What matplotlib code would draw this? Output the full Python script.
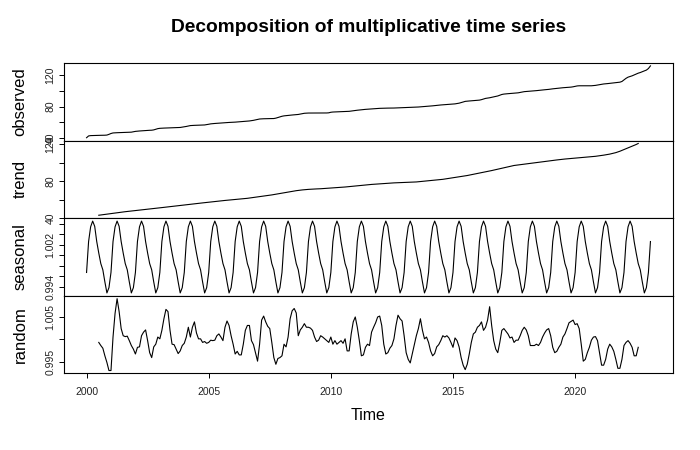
"""
Decomposition of a multiplicative monthly series (R decompose() style plot).
"""

import numpy as np
import matplotlib
matplotlib.use('Agg')
import matplotlib.pyplot as plt

plt.rcParams['font.family'] = ['Liberation Sans', 'DejaVu Sans']

# ─────────────────────────────────────────────────────────────
# DATA  (monthly, Jan 2000 - Feb 2023)
# ─────────────────────────────────────────────────────────────
START_YEAR = 2000
FREQ = 12
MA_OFFSET = 6   # centred 2x12 moving average loses 6 months at each end

observed = [
    40.2, 42.5, 42.9, 43.0, 43.1, 43.2, 43.2, 43.3, 43.3, 43.4, 43.6, 44.5,   # 2000
    45.6, 46.3, 46.5, 46.6, 46.7, 46.8, 46.9, 47.0, 47.1, 47.2, 47.3, 47.8,   # 2001
    48.3, 48.6, 48.8, 49.0, 49.2, 49.4, 49.5, 49.7, 49.8, 50.2, 51.0, 51.8,   # 2002
    52.2, 52.4, 52.5, 52.6, 52.6, 52.7, 52.8, 52.9, 53.0, 53.1, 53.3, 53.7,   # 2003
    54.0, 54.6, 55.2, 55.7, 55.9, 56.0, 56.1, 56.2, 56.3, 56.4, 56.5, 56.9,   # 2004
    57.4, 57.9, 58.2, 58.4, 58.6, 58.8, 59.0, 59.2, 59.4, 59.5, 59.7, 59.8,   # 2005
    59.9, 60.1, 60.3, 60.5, 60.7, 60.9, 61.1, 61.3, 61.6, 62.0, 62.4, 63.0,   # 2006
    63.6, 64.1, 64.3, 64.4, 64.5, 64.5, 64.6, 64.6, 64.7, 65.2, 66.0, 66.9,   # 2007
    67.6, 68.1, 68.4, 68.7, 69.0, 69.2, 69.4, 69.6, 69.9, 70.4, 71.0, 71.4,   # 2008
    71.6, 71.7, 71.7, 71.7, 71.7, 71.7, 71.7, 71.7, 71.7, 71.7, 71.8, 72.0,   # 2009
    72.7, 73.0, 73.1, 73.2, 73.3, 73.4, 73.5, 73.6, 73.7, 73.9, 74.2, 74.6,   # 2010
    75.0, 75.3, 75.6, 75.9, 76.2, 76.4, 76.6, 76.8, 77.0, 77.2, 77.4, 77.6,   # 2011
    77.7, 77.8, 77.9, 77.9, 78.0, 78.0, 78.1, 78.1, 78.2, 78.3, 78.4, 78.5,   # 2012
    78.5, 78.6, 78.7, 78.8, 78.9, 79.0, 79.2, 79.4, 79.6, 79.8, 80.0, 80.2,   # 2013
    80.4, 80.6, 80.9, 81.2, 81.5, 81.8, 82.0, 82.2, 82.4, 82.6, 82.8, 83.0,   # 2014
    83.2, 83.4, 83.8, 84.3, 85.0, 85.8, 86.6, 86.9, 87.1, 87.3, 87.5, 87.7,   # 2015
    87.8, 88.2, 88.8, 89.6, 90.4, 90.8, 91.2, 91.8, 92.5, 92.9, 93.5, 94.5,   # 2016
    95.4, 95.9, 96.2, 96.4, 96.6, 96.8, 97.0, 97.1, 97.5, 98.0, 98.5, 99.0,   # 2017
    99.2, 99.4, 99.6, 99.8, 100.0, 100.3, 100.6, 100.9, 101.2, 101.4, 101.6, 101.9,   # 2018
    102.3, 102.6, 102.9, 103.2, 103.5, 103.8, 104.0, 104.2, 104.4, 104.6, 104.8, 105.2,  # 2019
    105.8, 106.3, 106.5, 106.5, 106.5, 106.4, 106.4, 106.4, 106.5, 106.7, 107.0, 107.4,  # 2020
    107.9, 108.4, 108.8, 109.0, 109.3, 109.6, 109.9, 110.2, 110.5, 110.8, 111.1, 112.0,  # 2021
    114.0, 116.0, 117.5, 118.3, 119.2, 120.3, 121.5, 122.6, 123.4, 124.5, 125.5, 126.5,  # 2022
    128.5, 131.9,                                                                         # 2023
]

# Jul 2000 - Aug 2022
trend = [
    43.2, 43.5, 43.8, 44.1, 44.4, 44.7,                                        # 2000 (Jul-Dec)
    45.0, 45.3, 45.6, 45.9, 46.2, 46.5, 46.8, 47.03, 47.27, 47.5, 47.73, 47.97,
    48.2, 48.43, 48.67, 48.9, 49.13, 49.37, 49.6, 49.87, 50.13, 50.4, 50.67, 50.93,
    51.2, 51.47, 51.73, 52.0, 52.27, 52.53, 52.8, 53.05, 53.3, 53.55, 53.8, 54.05,
    54.3, 54.55, 54.8, 55.05, 55.3, 55.55, 55.8, 56.05, 56.3, 56.55, 56.8, 57.05,
    57.3, 57.55, 57.8, 58.05, 58.3, 58.55, 58.8, 59.0, 59.2, 59.4, 59.6, 59.8,
    60.0, 60.2, 60.4, 60.6, 60.8, 61.0, 61.2, 61.5, 61.8, 62.1, 62.4, 62.7,
    63.0, 63.3, 63.6, 63.9, 64.2, 64.5, 64.8, 65.18, 65.57, 65.95, 66.33, 66.72,
    67.1, 67.48, 67.87, 68.25, 68.63, 69.02, 69.4, 69.75, 70.05, 70.33, 70.58, 70.8,
    71.0, 71.17, 71.32, 71.45, 71.57, 71.67, 71.7, 71.85, 72.0, 72.15, 72.3, 72.45,
    72.6, 72.75, 72.9, 73.05, 73.2, 73.35, 73.5, 73.73, 73.95, 74.18, 74.4, 74.63,
    74.85, 75.08, 75.3, 75.53, 75.75, 75.98, 76.2, 76.36, 76.52, 76.68, 76.83, 76.99,
    77.15, 77.31, 77.47, 77.63, 77.78, 77.94, 78.1, 78.19, 78.28, 78.38, 78.47, 78.56,
    78.65, 78.74, 78.83, 78.93, 79.02, 79.11, 79.2, 79.41, 79.62, 79.83, 80.03, 80.24,
    80.45, 80.66, 80.87, 81.08, 81.28, 81.49, 81.7, 82.03, 82.37, 82.7, 83.03, 83.37,
    83.7, 84.03, 84.37, 84.7, 85.03, 85.37, 85.7, 86.14, 86.58, 87.03, 87.47, 87.91,
    88.35, 88.79, 89.23, 89.68, 90.12, 90.56, 91.0, 91.5, 92.0, 92.5, 93.0, 93.5,
    94.0, 94.5, 95.0, 95.5, 96.0, 96.5, 97.0, 97.29, 97.58, 97.88, 98.17, 98.46,
    98.75, 99.04, 99.33, 99.63, 99.92, 100.21, 100.5, 100.78, 101.05, 101.33, 101.6, 101.88,
    102.15, 102.43, 102.7, 102.98, 103.25, 103.53, 103.8, 103.98, 104.17, 104.35, 104.53, 104.72,
    104.9, 105.08, 105.27, 105.45, 105.63, 105.82, 106.0, 106.2, 106.42, 106.66, 106.92, 107.2,
    107.5, 107.82, 108.16, 108.52, 108.9, 109.3, 109.8, 110.3, 110.9, 111.6, 112.4, 113.3,
    114.2, 115.1, 116.0, 116.9, 117.8, 118.7, 119.7, 120.8,                    # 2022 (Jan-Aug)
]

# seasonal factor for Jan .. Dec
seasonal_factors = [0.9967, 1.0026, 1.0054, 1.0065, 1.0055, 1.0026,
                    1.0004, 0.9984, 0.9972, 0.9949, 0.9928, 0.9938]

# Jul 2000 - Aug 2022
random_part = [
    0.9993, 0.9986, 0.9980, 0.9963, 0.9948, 0.9930,
    0.9930, 1.0005, 1.0058, 1.0091, 1.0062, 1.0024, 1.0008, 1.0006, 1.0007, 0.9997, 0.9986, 0.9978,
    0.9967, 0.9982, 0.9983, 1.0008, 1.0016, 1.0021, 0.9997, 0.9970, 0.9959, 0.9983, 0.9989, 1.0005,
    1.0001, 1.0020, 1.0046, 1.0067, 1.0062, 1.0020, 0.9989, 0.9988, 0.9978, 0.9968, 0.9974, 0.9986,
    0.9991, 1.0005, 1.0027, 1.0005, 1.0027, 1.0039, 1.0014, 1.0001, 1.0001, 0.9993, 0.9995, 0.9991,
    0.9993, 0.9998, 0.9997, 0.9998, 1.0008, 1.0012, 1.0005, 0.9997, 1.0027, 1.0041, 1.0031, 1.0008,
    0.9989, 0.9967, 0.9973, 0.9965, 0.9965, 0.9989, 1.0020, 1.0031, 1.0031, 0.9997, 0.9988, 0.9970,
    0.9951, 0.9989, 1.0043, 1.0052, 1.0039, 1.0029, 1.0024, 0.9993, 0.9959, 0.9944, 0.9957, 0.9959,
    0.9963, 0.9989, 0.9983, 1.0005, 1.0046, 1.0064, 1.0069, 1.0059, 1.0008, 1.0021, 1.0027, 1.0035,
    1.0027, 1.0027, 1.0025, 1.0020, 1.0005, 0.9995, 0.9998, 1.0008, 1.0005, 1.0001, 0.9997, 0.9993,
    1.0005, 0.9989, 0.9997, 0.9989, 0.9993, 0.9997, 0.9991, 1.0001, 0.9974, 0.9974, 1.0012, 1.0039,
    1.0050, 1.0027, 0.9997, 0.9963, 0.9965, 0.9982, 0.9989, 0.9986, 1.0016, 1.0027, 1.0037, 1.0050,
    1.0052, 1.0031, 0.9989, 0.9967, 0.9970, 0.9980, 0.9986, 1.0001, 1.0031, 1.0054, 1.0046, 1.0041,
    1.0008, 0.9970, 0.9955, 0.9947, 0.9967, 0.9986, 1.0008, 1.0024, 1.0046, 1.0020, 1.0001, 1.0005,
    0.9993, 0.9974, 0.9963, 0.9968, 0.9983, 0.9988, 0.9997, 1.0008, 1.0005, 1.0008, 1.0003, 0.9993,
    0.9982, 1.0003, 0.9997, 0.9983, 0.9959, 0.9942, 0.9932, 0.9944, 0.9967, 0.9993, 1.0012, 1.0016,
    1.0027, 1.0031, 1.0039, 1.0020, 1.0027, 1.0043, 1.0073, 1.0031, 0.9997, 0.9978, 0.9970, 0.9993,
    1.0020, 1.0024, 1.0018, 1.0012, 1.0003, 1.0005, 0.9993, 0.9998, 0.9998, 1.0008, 1.0020, 1.0027,
    1.0021, 1.0008, 0.9986, 0.9986, 0.9986, 0.9989, 0.9986, 0.9993, 1.0005, 1.0014, 1.0021, 1.0024,
    1.0008, 0.9982, 0.9970, 0.9973, 0.9982, 0.9989, 1.0005, 1.0012, 1.0024, 1.0037, 1.0040, 1.0043,
    1.0033, 1.0035, 1.0024, 0.9989, 0.9951, 0.9955, 0.9970, 0.9982, 0.9998, 1.0005, 1.0006, 0.9997,
    0.9970, 0.9942, 0.9942, 0.9955, 0.9978, 0.9989, 0.9983, 0.9973, 0.9955, 0.9935, 0.9935, 0.9955,
    0.9986, 0.9993, 0.9997, 0.9991, 0.9982, 0.9963, 0.9963, 0.9982,
]

panel_names = ['observed', 'trend', 'seasonal', 'random']
y_ticks = {
    'observed': [40, 60, 80, 100, 120],
    'trend':    [40, 60, 80, 100, 120],
    'seasonal': [0.994, 0.996, 0.998, 1.000, 1.002, 1.004, 1.006],
    'random':   [0.995, 1.000, 1.005],
}
y_ticklabels = {
    'observed': ['40', '', '80', '', '120'],
    'trend':    ['40', '', '80', '', '120'],
    'seasonal': ['0.994', '', '', '', '1.002', '', ''],
    'random':   ['0.995', '', '1.005'],
}
x_ticks = [2000, 2005, 2010, 2015, 2020]

# ─────────────────────────────────────────────────────────────
# SERIES ON THE TIME AXIS
# ─────────────────────────────────────────────────────────────
n = len(observed)
t_all = START_YEAR + np.arange(n) / FREQ
t_mid = t_all[MA_OFFSET:MA_OFFSET + len(trend)]
seasonal = np.tile(seasonal_factors, n // FREQ + 1)[:n]

series = {
    'observed': (t_all, np.array(observed)),
    'trend':    (t_mid, np.array(trend)),
    'seasonal': (t_all, seasonal),
    'random':   (t_mid, np.array(random_part)),
}

# R pads the ranges by 4 %
def padded(lo, hi):
    d = (hi - lo) * 0.04
    return lo - d, hi + d

xlim = padded(t_all.min(), t_all.max())

# ─────────────────────────────────────────────────────────────
# PLOT
# ─────────────────────────────────────────────────────────────
W, H = 700, 450
fig = plt.figure(figsize=(W / 100, H / 100), dpi=100)
fig.patch.set_facecolor('white')

left_px, right_px = 64, 673
top_px, panel_px = 63, 77.6

for k, name in enumerate(panel_names):
    top = top_px + k * panel_px
    ax = fig.add_axes([left_px / W, 1 - (top + panel_px) / H,
                       (right_px - left_px) / W, panel_px / H])
    x, y = series[name]
    ax.plot(x, y, color='black', linewidth=0.8)
    ax.set_xlim(*xlim)
    ax.set_ylim(*padded(y.min(), y.max()))

    for sp in ax.spines.values():
        sp.set_linewidth(0.8)
        sp.set_color('black')

    ax.set_yticks(y_ticks[name])
    ax.set_yticklabels(y_ticklabels[name])
    ax.tick_params(axis='y', direction='out', length=3.6, width=0.7,
                   labelsize=7.5, pad=2.5, labelrotation=90, colors='black')
    for lbl in ax.get_yticklabels():
        lbl.set_va('center')
        lbl.set_color('#222222')

    ax.set_ylabel(name, fontsize=12, va='center')
    ax.yaxis.set_label_coords((20 - left_px) / (right_px - left_px), 0.5)

    if name == 'random':
        ax.set_xticks(x_ticks)
        ax.set_xticklabels([str(v) for v in x_ticks])
        ax.tick_params(axis='x', direction='out', length=3.6, width=0.7,
                       labelsize=7.5, pad=6.5)
        for lbl in ax.get_xticklabels():
            lbl.set_color('#222222')
        ax.set_xlabel('Time', fontsize=11.5, va='center')
        ax.xaxis.set_label_coords(0.5, -(416 - (top + panel_px)) / panel_px)
    else:
        ax.set_xticks([])

fig.text((left_px + right_px) / 2 / W, 1 - 28 / H,
         'Decomposition of multiplicative time series',
         ha='center', va='center', fontsize=13.8, fontweight='bold')

fig.savefig('out.png', dpi=100, facecolor='white')
plt.close(fig)
